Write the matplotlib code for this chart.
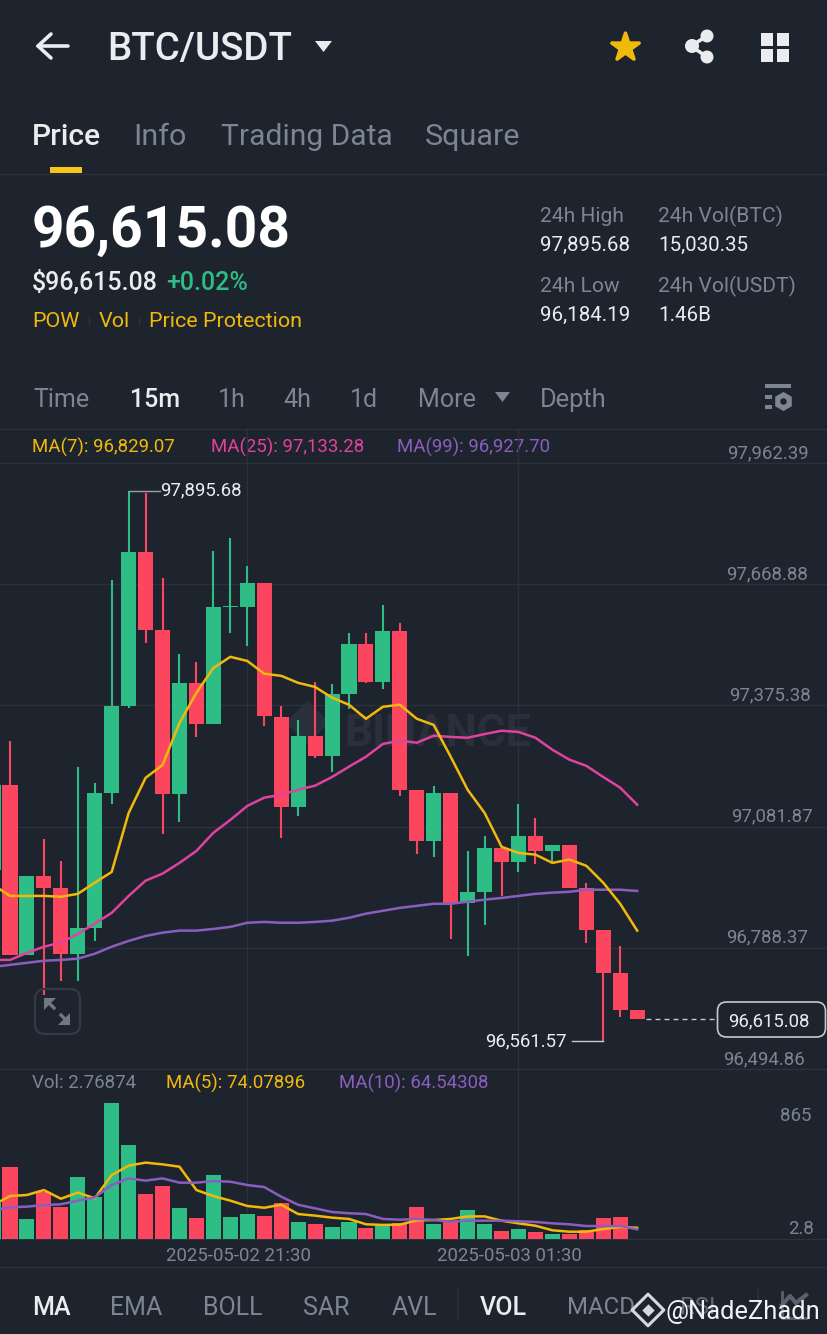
import numpy as np
import matplotlib
matplotlib.use("Agg")
import matplotlib.pyplot as plt
from matplotlib.patches import FancyBboxPatch, Polygon, Rectangle, Circle

plt.rcParams["font.family"] = ["Roboto", "DejaVu Sans"]

## Data (15m candles, first one is cut by the left edge)
candle_idx = list(range(-1, 38))
opens = [96977.3, 97183.1, 96771.5, 96962.8, 96933.8, 96773.9, 96836.9, 97163.7, 97374.3, 97747.0,
         97558.2, 97161.3, 97429.9, 97330.7, 97612.5, 97613.9, 97672.0, 97347.6, 97129.8, 97301.7,
         97253.3, 97403.3, 97524.4, 97432.4, 97555.8, 97171.0, 97047.5, 97163.7, 96897.4, 96924.1,
         97030.6, 96996.7, 97059.6, 97023.3, 97037.8, 96933.8, 96832.0, 96728.0, 96638.4]
closes = [97183.1, 96771.5, 96962.8, 96933.8, 96773.9, 96836.9, 97163.7, 97374.3, 97747.0, 97558.2,
          97161.3, 97429.9, 97330.7, 97613.9, 97616.4, 97672.0, 97350.1, 97129.8, 97301.7, 97253.3,
          97403.3, 97524.4, 97432.4, 97555.8, 97171.0, 97047.5, 97163.7, 96897.4, 96924.1, 97030.6,
          96996.7, 97059.6, 97023.3, 97037.8, 96933.8, 96832.0, 96728.0, 96638.4, 96615.08]
highs = [97183.1, 97289.5, 96962.8, 97052.3, 96999.1, 97226.6, 97187.9, 97679.3, 97895.68, 97889.9,
         97684.1, 97500.2, 97480.8, 97749.5, 97780.9, 97713.2, 97672.0, 97374.3, 97340.4, 97432.4,
         97427.5, 97551.0, 97551.0, 97618.8, 97575.2, 97171.0, 97180.6, 97163.7, 97023.3, 97059.6,
         97030.6, 97137.0, 97103.2, 97037.8, 97037.8, 96945.9, 96832.0, 96793.3, 96638.4]
lows = [96977.3, 96771.5, 96771.5, 96674.7, 96708.6, 96708.6, 96805.4, 97137.0, 97369.5, 97526.8,
        97064.5, 97093.5, 97299.2, 97330.7, 97551.0, 97519.5, 97325.9, 97054.8, 97108.0, 97248.4,
        97214.5, 97367.0, 97429.9, 97415.4, 97156.4, 97016.0, 97008.8, 96810.3, 96769.1, 96844.2,
        96914.3, 96972.5, 96991.8, 96996.7, 96933.8, 96800.6, 96561.57, 96621.5, 96615.08]

ma7 = [96941, 96914, 96914, 96914, 96912, 96919, 96946, 96972, 97115, 97200, 97231, 97333, 97406,
       97466, 97493, 97483, 97452, 97447, 97430, 97420, 97394, 97377, 97343, 97372, 97377, 97343,
       97328, 97251, 97171, 97115, 97033, 97018, 97014, 96994, 97002, 96987, 96946, 96895, 96830]
ma25 = [96759, 96759, 96776, 96791, 96801, 96822, 96847, 96873, 96914, 96951, 96968, 96994, 97023,
        97067, 97098, 97132, 97152, 97159, 97171, 97181, 97202, 97227, 97251, 97282, 97290, 97285,
        97302, 97299, 97297, 97306, 97314, 97311, 97297, 97268, 97244, 97229, 97202, 97176, 97135]
ma99 = [96742, 96747, 96752, 96757, 96759, 96762, 96774, 96791, 96805, 96817, 96825, 96830, 96830,
        96834, 96839, 96849, 96851, 96849, 96849, 96851, 96854, 96861, 96871, 96878, 96885, 96890,
        96895, 96895, 96900, 96905, 96909, 96914, 96919, 96922, 96924, 96929, 96929, 96929, 96926]

volumes = [229, 457, 128, 303, 204, 396, 271, 865, 597, 290, 341, 201, 134, 407, 144, 161, 149, 229,
           113, 98, 81, 109, 73, 87, 106, 204, 98, 113, 185, 96, 52, 64, 49, 36, 36, 60, 138, 144, 2.77]
vol_ma5 = [218, 275, 282, 313, 258, 297, 261, 408, 468, 487, 476, 461, 313, 275, 246, 212, 201, 220,
           161, 151, 138, 130, 96, 92, 94, 121, 123, 130, 146, 146, 119, 102, 87, 58, 49, 49, 66, 79, 74.08]
vol_ma10 = [182, 204, 208, 218, 223, 246, 267, 345, 387, 373, 387, 360, 360, 370, 366, 345, 332, 271,
            220, 197, 174, 166, 161, 130, 125, 130, 123, 113, 119, 119, 119, 115, 111, 102, 96, 85, 85, 85, 64.54]

price_ticks = [97962.39, 97668.88, 97375.38, 97081.87, 96788.37, 96494.86]
price_label_right = [809, 808, 811, 813, 808, 805]  # labels are not aligned in the app
date_ticks = [14, 30]
date_labels = ["2025-05-02 21:30", "2025-05-03 01:30"]

# colours
BG = "#1E242D"
GRID = "#2C323C"
GREEN = "#2EBD85"
RED = "#FC4660"
GOLD = "#F0B90B"
PINK = "#E0429F"
PURPLE = "#8A5EBF"
GREY = "#7C8591"
WHITE = "#EAECEF"

SMALL = 18.7  # chart labels, px

W, H = 828, 1334
fig = plt.figure(figsize=(W / 100, H / 100), dpi=100, facecolor=BG)

# background axes in screen pixels for the app chrome
bg = fig.add_axes([0, 0, 1, 1])
bg.set_xlim(0, W)
bg.set_ylim(H, 0)
bg.axis("off")


def txt(x, y, s, size=21, color=GREY, ha="left", weight="normal", **kw):
    # size is in pixels, matplotlib centres a bit high so push it down
    return bg.text(x, y + size * 0.07, s, fontsize=size * 0.72, color=color, ha=ha, va="center",
                   weight=weight, **kw)


def hline(y, x0=0, x1=W, color=GRID, lw=1.0):
    bg.plot([x0, x1], [y, y], color=color, lw=lw)


def px_axes(top, bottom):
    ax = fig.add_axes([0, 1 - bottom / H, 1, (bottom - top) / H])
    ax.patch.set_alpha(0)
    for s in ax.spines.values():
        s.set_visible(False)
    ax.set_xlim((0 - 10) / 16.95, (W - 10) / 16.95)
    ax.tick_params(length=0, labelbottom=False, labelleft=False)
    ax.set_axisbelow(True)
    return ax


## Header
bg.plot([38, 68], [46, 46], color=WHITE, lw=2.6, solid_capstyle="round")
bg.plot([51, 38, 51], [34, 46, 58], color=WHITE, lw=2.6, solid_capstyle="round", solid_joinstyle="round")
txt(107.5, 47, "BTC/USDT", 38.5, WHITE, weight="medium")
bg.add_patch(Polygon([[315, 41], [332, 41], [323.5, 52]], color=WHITE, lw=0))
bg.scatter([625], [47], marker="*", s=430, color=GOLD, edgecolors=GOLD, linewidths=2.5, zorder=3)
for a, b in [((707, 36), (691, 46)), ((691, 46), (707, 57))]:
    bg.plot([a[0], b[0]], [a[1], b[1]], color=WHITE, lw=2.6)
for cx, cy, r in [(707, 36, 6.5), (692, 46, 7), (707, 57, 6.5)]:
    bg.add_patch(Circle((cx, cy), r, color=WHITE, lw=0, zorder=3))
for cx, cy in [(761, 33), (777, 33), (761, 49), (777, 49)]:
    bg.add_patch(Rectangle((cx, cy), 12.5, 12.5, color=WHITE, lw=0))

txt(32, 135, "Price", 30, WHITE, weight="medium")
txt(133, 135, "Info", 30.5, GREY)
txt(221, 135, "Trading Data", 30, GREY)
txt(425, 135, "Square", 30.5, GREY)
bg.add_patch(Rectangle((50, 167), 32, 6, color="#F5C518", lw=0))
hline(173.5)

txt(32, 227, "96,615.08", 57, "#FFFFFF", weight="bold")
txt(32, 281, "$96,615.08", 25, WHITE, weight="medium")
txt(166, 281, "+0.02%", 25, GREEN, weight="medium")
txt(32, 320, "POW", 21.5, GOLD)
txt(99, 320, "Vol", 21.5, GOLD)
txt(149, 320, "Price Protection", 21.5, GOLD)
bg.plot([89, 89], [316, 325], color=GRID, lw=1)
bg.plot([139, 139], [316, 325], color=GRID, lw=1)

txt(540, 215, "24h High", 21)
txt(540, 244, "97,895.68", 20.5, WHITE)
txt(540, 285, "24h Low", 21)
txt(540, 314, "96,184.19", 20.5, WHITE)
txt(658, 215, "24h Vol(BTC)", 21)
txt(658, 244, "15,030.35", 20.5, WHITE)
txt(658, 285, "24h Vol(USDT)", 21)
txt(658, 314, "1.46B", 20.5, WHITE)

txt(33, 398, "Time", 25)
txt(130, 398, "15m", 25, WHITE, weight="medium")
txt(218, 398, "1h", 25)
txt(283, 398, "4h", 25)
txt(350, 398, "1d", 25)
txt(418, 398, "More", 25)
bg.add_patch(Polygon([[495, 392], [510, 392], [502.5, 402]], color=GREY, lw=0))
txt(540, 398, "Depth", 25.5)
# chart settings icon
bg.add_patch(Rectangle((765, 384), 26, 3.5, color=GREY, lw=0))
bg.add_patch(Rectangle((765, 395), 7, 3.5, color=GREY, lw=0))
bg.add_patch(Rectangle((765, 405), 7, 3.5, color=GREY, lw=0))
bg.scatter([783], [401], marker="h", s=190, color=GREY, linewidths=0)
bg.scatter([783], [401], marker="o", s=22, color=BG, linewidths=0)
hline(428.5)

## Candles
ax = px_axes(430, 1069)
ax.set_ylim(96494.86, 97962.39 + 33 * 2.4206)
ax.set_yticks(price_ticks)
ax.set_xticks(date_ticks)
ax.grid(True, color=GRID, lw=1)

x = np.array(candle_idx)
colors = [GREEN if c >= o else RED for o, c in zip(opens, closes)]
ax.vlines(x, lows, highs, colors=colors, lw=1.5, zorder=2)
ax.bar(x, np.abs(np.array(closes) - np.array(opens)), bottom=np.minimum(opens, closes),
       width=0.885, color=colors, zorder=3)
ax.plot(x, ma99, color=PURPLE, lw=1.8, zorder=4)
ax.plot(x, ma25, color=PINK, lw=1.8, zorder=4)
ax.plot(x, ma7, color=GOLD, lw=1.8, zorder=5)

for p, right in zip(price_ticks, price_label_right):
    ax.annotate(f"{p:,.2f}", xy=(1, p), xycoords=("axes fraction", "data"),
                xytext=((right - W) * 0.72, 10 * 0.72), textcoords="offset points",
                ha="right", va="center", fontsize=SMALL * 0.72, color=GREY, annotation_clip=False)

txt(32, 446, "MA(7): 96,829.07", SMALL, GOLD)
txt(211, 446, "MA(25): 97,133.28", SMALL, PINK)
txt(397, 446, "MA(99): 96,927.70", SMALL, PURPLE)

# watermark
txt(344, 731, "BINANCE", 44, "#2A303B", weight="bold", zorder=1)
bg.scatter([307], [722], marker="D", s=500, color="#2A303B", linewidths=0, zorder=1)

# high / low labels
ax.plot([7, 8.85], [97895.68, 97895.68], color="#9AA1AB", lw=1, zorder=6)
ax.annotate("97,895.68", xy=(8.85, 97895.68), fontsize=SMALL * 0.72, color=WHITE, va="center", zorder=6)
ax.plot([33.15, 35], [96561.57, 96561.57], color="#C5C9D0", lw=1, zorder=6)
ax.annotate("96,561.57", xy=(32.85, 96561.57), fontsize=SMALL * 0.72, color=WHITE, va="center", ha="right", zorder=6)

# last price tag
ax.plot([37.5, 41.8], [96615.08, 96615.08], color="#C5C9D0", lw=1, ls=(0, (3.5, 3)), zorder=6)
fg = fig.add_axes([0, 0, 1, 1])
fg.set_xlim(0, W)
fg.set_ylim(H, 0)
fg.axis("off")
fg.add_patch(FancyBboxPatch((717.5, 1002), 108, 35, boxstyle="round,pad=0,rounding_size=9",
                            fc=BG, ec="#C5C9D0", lw=1.2))
fg.text(768.5, 1021, "96,615.08", fontsize=SMALL * 0.72, color=WHITE, ha="center", va="center")

# expand button
fg.add_patch(FancyBboxPatch((35, 989), 45, 45, boxstyle="round,pad=0,rounding_size=10",
                            fc="none", ec="#343A45", lw=1.6))
fg.plot([48, 54], [1002, 1008], color="#6F7782", lw=2.4)
fg.plot([61, 67], [1015, 1021], color="#6F7782", lw=2.4)
fg.add_patch(Polygon([[44, 998], [56, 998], [44, 1010]], color="#6F7782", lw=0))
fg.add_patch(Polygon([[70, 1025], [58, 1025], [70, 1013]], color="#6F7782", lw=0))

## Volume
vx = px_axes(1069, 1239)
vx.set_ylim(2.8, 1080.6)
vx.set_xticks(date_ticks)
vx.set_yticks([])
vx.grid(True, axis="x", color=GRID, lw=1)
vx.bar(x, volumes, width=0.885, color=colors, zorder=3)
vx.plot(x, vol_ma5, color=GOLD, lw=1.8, zorder=4)
vx.plot(x, vol_ma10, color=PURPLE, lw=1.8, zorder=5)

hline(1069)
hline(1239)
hline(1267)

txt(32, 1082, "Vol: 2.76874", SMALL)
txt(166, 1082, "MA(5): 74.07896", SMALL, GOLD)
txt(339, 1082, "MA(10): 64.54308", SMALL, PURPLE)
txt(811, 1115, "865", SMALL, ha="right")
txt(814, 1228, "2.8", SMALL, ha="right")
for lab, cx in zip(date_labels, [238.5, 509]):
    txt(cx, 1255, lab, SMALL, ha="center")

## Bottom indicator row
txt(32, 1306, "MA", 25, WHITE, weight="medium")
txt(110, 1306, "EMA", 25)
txt(203, 1306, "BOLL", 25)
txt(303, 1306, "SAR", 25)
txt(392, 1306, "AVL", 25)
txt(480, 1306, "VOL", 25, WHITE, weight="medium")
txt(567, 1306, "MACD", 24)
txt(680, 1306, "RSI", 24, alpha=0.7)
bg.plot([458.5, 458.5], [1290, 1320], color=GRID, lw=1.2)
bg.plot([758, 758], [1290, 1320], color=GRID, lw=1.2)
bg.plot([782, 790, 796, 806], [1305, 1296, 1303, 1295], color="#5A616C", lw=3)
bg.plot([782, 782, 806], [1292, 1318, 1318], color="#5A616C", lw=2)

# user watermark on top of the row
fg.scatter([648], [1310], marker="D", s=260, facecolor="none", edgecolor="#D5D8DC", linewidths=2.2)
fg.scatter([648], [1310], marker="D", s=40, color="#D5D8DC", linewidths=0)
fg.text(666, 1312, "@NadeZhadn", fontsize=25.5 * 0.72, color="#F2F3F5", va="center")

fig.savefig("out.png", dpi=100, facecolor=BG)
